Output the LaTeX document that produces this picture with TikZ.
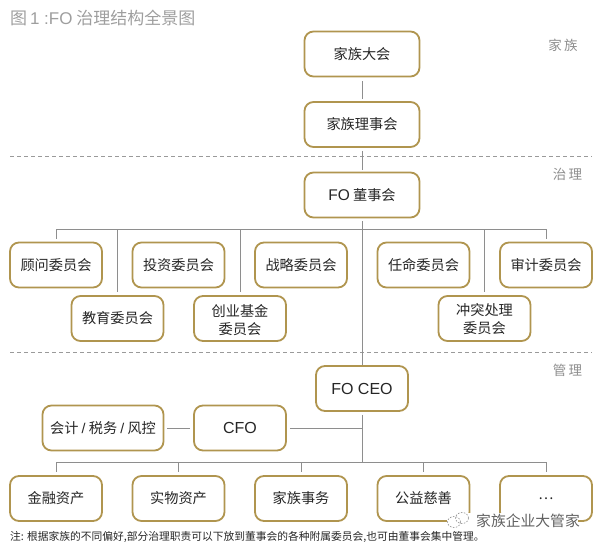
\documentclass[tikz,border=0pt]{standalone}
\usepackage{fontspec}
\setmainfont{Noto Sans CJK SC}
\newfontfamily\latinfont{Liberation Sans}
\definecolor{boxgold}{HTML}{B0954F}
\definecolor{linegray}{HTML}{8E8E8E}
\definecolor{dashgray}{HTML}{9A9A9A}
\definecolor{labelgray}{HTML}{8E8E8E}
\definecolor{titlegray}{HTML}{9E9E9E}
\definecolor{textdark}{HTML}{262626}
\tikzset{
  orgbox/.style={draw=boxgold,line width=1.8pt,rounded corners=9pt,minimum height=45pt,inner sep=0pt,align=center,fill=white,text=textdark,font=\fontsize{14.2}{16}\selectfont},
  wbox/.style={orgbox,minimum width=92pt},
  link/.style={draw=linegray,line width=1pt},
  sect/.style={draw=dashgray,line width=0.9pt,dash pattern=on 4pt off 3pt},
  bandlabel/.style={text=labelgray,font=\fontsize{13.5}{15}\selectfont,inner sep=0pt},
}
\begin{document}
\begin{tikzpicture}[x=1pt,y=-1pt]
\useasboundingbox (0,0) rectangle (600,547);
% section separators
\coordinate (d1a) at (10,156.5); \coordinate (d1b) at (592,156.5);
\coordinate (d2a) at (10,352); \coordinate (d2b) at (592,352);
\draw[sect] (d1a) -- (d1b);
\draw[sect] (d2a) -- (d2b);
% title and band labels
\node[anchor=west,text=titlegray,inner sep=0pt,font=\fontsize{17}{18}\selectfont] (title) at (10,17.5) {图\,{\latinfont 1 :FO} 治理结构全景图};
\node[bandlabel] (lb1) at (563,45) {家\,族};
\node[bandlabel] (lb2) at (567.5,174) {治\,理};
\node[bandlabel] (lb3) at (567.5,370) {管\,理};
% family
\node[wbox,minimum width=115pt] (assembly) at (362,54) {家族大会};
\node[wbox,minimum width=115pt] (council) at (362,124.5) {家族理事会};
\node[wbox,minimum width=115pt] (board) at (362,195) {{\latinfont\fontsize{15.5}{16}\selectfont FO} 董事会};
% committees
\node[wbox] (c1) at (56,265) {顾问委员会};
\node[wbox] (c2) at (178.5,265) {投资委员会};
\node[wbox] (c3) at (301,265) {战略委员会};
\node[wbox] (c4) at (423.5,265) {任命委员会};
\node[wbox] (c5) at (546,265) {审计委员会};
\node[wbox] (e1) at (117.5,318.5) {教育委员会};
\node[wbox] (e2) at (240,318.5) {\rule{0pt}{15pt}创业基金\\[1.5pt]委员会};
\node[wbox] (e3) at (484.5,318.5) {\rule{0pt}{13pt}冲突处理\\[1.5pt]委员会};
% management
\node[wbox] (ceo) at (362,388.5) {\latinfont\fontsize{16}{18}\selectfont FO CEO};
\node[wbox] (cfo) at (240,428) {\latinfont\fontsize{16}{18}\selectfont CFO};
\node[wbox,minimum width=121pt] (acc) at (103,428) {会计 {\latinfont/} 税务 {\latinfont/} 风控};
\node[wbox] (m1) at (56,498.5) {金融资产};
\node[wbox] (m2) at (178.5,498.5) {实物资产};
\node[wbox] (m3) at (301,498.5) {家族事务};
\node[wbox] (m4) at (423.5,498.5) {公益慈善};
\node[wbox] (m5) at (546,498.5) {…};
% bus coordinates
\coordinate (busA) at (362,229);
\coordinate (busB) at (362,462);
% connectors
\draw[link,shorten <=4pt,shorten >=2pt] (assembly.south) -- (council.north);
\draw[link,shorten <=3pt,shorten >=2pt] (council.south) -- (board.north);
\draw[link,shorten <=3pt] (board.south) -- (ceo.north);
\draw[link] (c1.north |- busA) -- (c5.north |- busA);
\draw[link,shorten >=3pt] (c1.north |- busA) -- (c1.north);
\draw[link,shorten >=3pt] (c5.north |- busA) -- (c5.north);
\draw[link,shorten >=3.5pt] (e1.north |- busA) -- (e1.north);
\draw[link,shorten >=3.5pt] (e2.north |- busA) -- (e2.north);
\draw[link,shorten >=3.5pt] (e3.north |- busA) -- (e3.north);
\draw[link,shorten <=3pt] (ceo.south) -- (busB);
\draw[link,shorten <=3pt] (cfo.east) -- (ceo.south |- cfo.east);
\draw[link,shorten <=3pt,shorten >=3pt] (acc.east) -- (cfo.west);
\draw[link] (m1.north |- busB) -- (m5.north |- busB);
\foreach \n in {m1,m2,m3,m4,m5}{
  \draw[link,shorten >=3pt] (\n.north |- busB) -- (\n.north);
}
% footnote
\node[anchor=west,inner sep=0pt,text=textdark,font=\fontsize{10.75}{12}\selectfont] (note) at (10,537) {注: 根据家族的不同偏好,部分治理职责可以下放到董事会的各种附属委员会,也可由董事会集中管理。};
% watermark
\fill[white] (447,513) rectangle (578,529.5);
\draw[black!40,line width=0.7pt,dash pattern=on 1.5pt off 1.5pt] (454,522) ellipse (6.5pt and 5.5pt);
\draw[black!40,line width=0.7pt,dash pattern=on 1.5pt off 1.5pt] (462,518) ellipse (6.5pt and 5.5pt);
\node[anchor=west,inner sep=0pt,text=black!62,font=\fontsize{14.8}{16}\selectfont] (wm) at (476,520.5) {家族企业大管家};
\end{tikzpicture}
\end{document}
